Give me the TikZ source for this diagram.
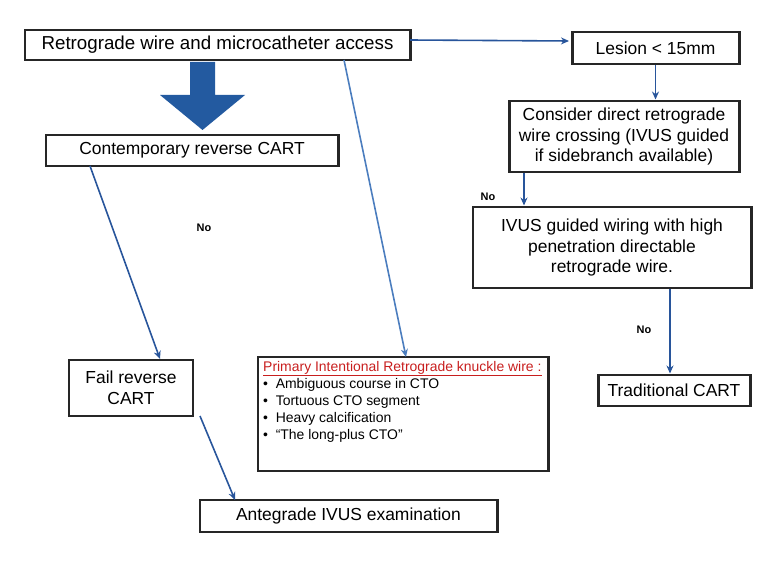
\documentclass[tikz,border=0pt]{standalone}
\usepackage{fontspec}
\setmainfont{Liberation Sans}
\usetikzlibrary{arrows.meta}
\definecolor{arrc}{RGB}{40,85,155}
\definecolor{arrl}{RGB}{75,125,190}
\definecolor{bigc}{RGB}{35,90,160}
\definecolor{redt}{RGB}{200,30,30}
\begin{document}
\begin{tikzpicture}[x=1bp,y=-1bp,
  box/.style={draw=black!85,line width=3pt,inner sep=0pt,align=center,font=\fontsize{17.5}{21}\selectfont},
  arr/.style={draw=arrc,line width=1.6pt,-{Stealth[length=8bp,width=7bp]}},
  lab/.style={font=\bfseries\fontsize{11}{13}\selectfont}]
\useasboundingbox (0,0) rectangle (768,576);
\node[box,minimum width=385bp,minimum height=30bp,font=\fontsize{18.8}{22}\selectfont] (top) at (217.5,45) {Retrograde wire and microcatheter access};
\node[box,minimum width=167bp,minimum height=32bp] (les) at (655.5,48) {Lesion < 15mm};
\node[box,minimum width=230bp,minimum height=71bp] (con) at (624,136.5) {Consider direct retrograde\\wire crossing (IVUS guided\\if sidebranch available)};
\node[box,minimum width=278bp,minimum height=81bp] (ivus) at (612,247.5) {IVUS guided wiring with high\\penetration directable\\retrograde wire.};
\node[box,minimum width=152bp,minimum height=31bp] (trad) at (674,390.5) {Traditional CART};
\node[box,minimum width=292bp,minimum height=31bp] (crc) at (192,150.5) {Contemporary reverse CART};
\node[box,minimum width=124bp,minimum height=56bp] (fail) at (131,388) {Fail reverse\\CART};
\node[box,minimum width=290bp,minimum height=114bp] (prim) at (403,414) {};
\node[anchor=north west,align=left,inner sep=0pt,font=\fontsize{14}{17}\selectfont] (primt) at (263,361)
 {\textcolor{redt}{\underline{Primary Intentional Retrograde knuckle wire :}}\\
 \textbullet\ \ Ambiguous course in CTO\\
 \textbullet\ \ Tortuous CTO segment\\
 \textbullet\ \ Heavy calcification\\
 \textbullet\ \ “The long-plus CTO”};
\node[box,minimum width=297bp,minimum height=32bp] (ant) at (348.5,516) {Antegrade IVUS examination};
\fill[bigc] (190,62) -- (215,62) -- (215,95) -- (245,95) -- (202.5,130) -- (160,95) -- (190,95) -- cycle;
\coordinate (a1) at (410,40); \coordinate (a2) at (569,41);
\draw[arr] (a1) -- (a2);
\draw[arr] (les.south) -- (les.south |- con.north);
\draw[arr] (con.south -| 524,0) -- (ivus.north -| 524,0);
\draw[arr] (ivus.south -| 670,0) -- (trad.north -| 670,0);
\coordinate (c1) at (90,166); \coordinate (c2) at (160,359);
\draw[arr] (c1) -- (c2);
\coordinate (p1) at (344,60); \coordinate (p2) at (406,357);
\draw[arr,draw=arrl] (p1) -- (p2);
\coordinate (f1) at (200,416); \coordinate (f2) at (235,500);
\draw[arr] (f1) -- (f2);
\node[lab] (n1) at (204,228) {No};
\node[lab] (n2) at (488,197) {No};
\node[lab] (n3) at (644,330) {No};
\end{tikzpicture}
\end{document}
